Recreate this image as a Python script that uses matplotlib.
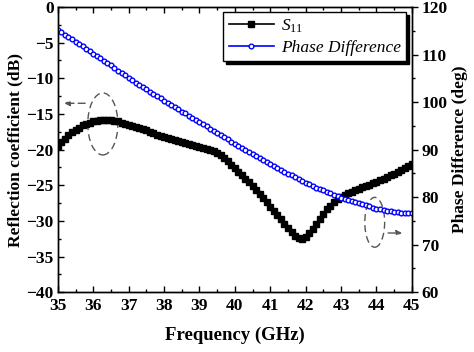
import numpy as np
import matplotlib
matplotlib.use('Agg')
import matplotlib.pyplot as plt
from matplotlib.patches import Ellipse
from matplotlib.ticker import MultipleLocator

plt.rcParams['font.family'] = ['Liberation Serif', 'DejaVu Serif']
plt.rcParams['mathtext.fontset'] = 'custom'
plt.rcParams['mathtext.it'] = 'Liberation Serif:italic'
plt.rcParams['mathtext.rm'] = 'Liberation Serif'

# Data
freq = np.round(np.arange(35.0, 45.01, 0.1), 1)

s11 = [-19.5, -19.0, -18.5, -18.0, -17.6, -17.2, -16.9, -16.6, -16.4, -16.2,
       -16.05, -15.95, -15.9, -15.85, -15.85, -15.9, -15.95, -16.05, -16.2, -16.35,
       -16.5, -16.65, -16.8, -16.95, -17.1, -17.3, -17.5, -17.7, -17.9, -18.05,
       -18.2, -18.35, -18.5, -18.65, -18.8, -18.95, -19.05, -19.2, -19.35, -19.5,
       -19.6, -19.75, -19.9, -20.05, -20.25, -20.5, -20.8, -21.2, -21.6, -22.1,
       -22.6, -23.1, -23.6, -24.1, -24.6, -25.1, -25.6, -26.2, -26.8, -27.4,
       -28.0, -28.6, -29.2, -29.8, -30.4, -31.0, -31.6, -32.1, -32.4, -32.5,
       -32.2, -31.7, -31.1, -30.4, -29.7, -29.0, -28.4, -27.9, -27.4, -27.0,
       -26.7, -26.4, -26.1, -25.9, -25.7, -25.5, -25.3, -25.1, -24.9, -24.7,
       -24.5, -24.3, -24.1, -23.9, -23.6, -23.4, -23.1, -22.9, -22.6, -22.3,
       -22.0]

phase = [115.2, 114.7, 114.2, 113.7, 113.2, 112.7, 112.2, 111.7, 111.2, 110.7,
         110.2, 109.7, 109.2, 108.7, 108.2, 107.7, 107.1, 106.6, 106.1, 105.6,
         105.1, 104.6, 104.1, 103.6, 103.1, 102.7, 102.2, 101.7, 101.2, 100.8,
         100.3, 99.8, 99.4, 98.9, 98.5, 98.0, 97.6, 97.1, 96.7, 96.2,
         95.8, 95.3, 94.9, 94.4, 94.0, 93.5, 93.1, 92.6, 92.2, 91.7,
         91.2, 90.8, 90.4, 90.0, 89.5, 89.1, 88.7, 88.2, 87.8, 87.4,
         86.9, 86.5, 86.1, 85.7, 85.3, 84.9, 84.6, 84.2, 83.8, 83.4,
         83.0, 82.7, 82.4, 82.0, 81.7, 81.4, 81.1, 80.8, 80.5, 80.2,
         79.9, 79.7, 79.4, 79.2, 78.9, 78.7, 78.5, 78.3, 78.1, 77.8,
         77.6, 77.4, 77.3, 77.1, 77.0, 76.9, 76.8, 76.7, 76.7, 76.6,
         76.6]

fig = plt.figure(figsize=(4.74, 3.52), dpi=100)
ax = fig.add_axes([0.122, 0.170, 0.747, 0.810])
ax2 = ax.twinx()

l1, = ax.plot(freq, s11, color='black', marker='s', markersize=4.2, lw=1.2)
l2, = ax2.plot(freq, phase, color='blue', marker='o', markersize=3.4, lw=1.2,
               markerfacecolor='white', markeredgecolor='blue', markeredgewidth=1.0)

ax.set_xlim(35, 45)
ax.set_ylim(-40, 0)
ax2.set_ylim(60, 120)

ax.xaxis.set_major_locator(MultipleLocator(1))
ax.xaxis.set_minor_locator(MultipleLocator(0.5))
ax.yaxis.set_major_locator(MultipleLocator(5))
ax.yaxis.set_minor_locator(MultipleLocator(2.5))
ax2.yaxis.set_major_locator(MultipleLocator(10))
ax2.yaxis.set_minor_locator(MultipleLocator(5))

ax.tick_params(axis='x', which='both', direction='in', top=True, labelsize=12.5, pad=4)
ax.tick_params(axis='y', which='both', direction='in', right=False, labelsize=12.5, pad=3)
ax.tick_params(which='major', length=4, width=1)
ax.tick_params(which='minor', length=2.5, width=1)
ax2.tick_params(axis='y', which='major', direction='out', length=4, width=1,
                labelsize=12.5, pad=3)
ax2.tick_params(axis='y', which='minor', direction='out', length=2.5, width=1)

for lab in ax.get_xticklabels() + ax.get_yticklabels() + ax2.get_yticklabels():
    lab.set_fontweight('bold')
for sp in list(ax.spines.values()) + list(ax2.spines.values()):
    sp.set_linewidth(1.0)

ax.set_xlabel('Frequency (GHz)', fontsize=13.5, fontweight='bold', labelpad=9)
ax.set_ylabel('Reflection coefficient (dB)', fontsize=12.5, fontweight='bold', labelpad=2)
ax2.set_ylabel('Phase Difference (deg)', fontsize=12.5, fontweight='bold', labelpad=3)

# dashed ellipses with arrows
ax.add_patch(Ellipse((36.27, -16.4), 0.85, 8.7, fill=False,
                     ls=(0, (5, 3)), ec='#555555', lw=1.0))
ax.annotate('', xy=(35.1, -13.5), xytext=(35.85, -13.5),
            arrowprops=dict(arrowstyle='-|>', ls=(0, (5, 3)), color='#555555',
                            lw=1.0, mutation_scale=8))
ax.add_patch(Ellipse((43.95, -30.2), 0.56, 7.0, fill=False,
                     ls=(0, (5, 3)), ec='#555555', lw=1.0))
ax.annotate('', xy=(44.8, -31.7), xytext=(44.25, -31.7),
            arrowprops=dict(arrowstyle='-|>', ls=(0, (5, 3)), color='#555555',
                            lw=1.0, mutation_scale=8))

leg = ax2.legend([l1, l2], [r'$S_{\mathit{11}}$', 'Phase Difference'], loc='upper right',
                 bbox_to_anchor=(0.983, 0.982), fancybox=False,
                 shadow={'facecolor': 'black', 'edgecolor': 'black', 'alpha': 1},
                 framealpha=1, edgecolor='black', handlelength=2.6,
                 prop={'style': 'italic', 'size': 12.5}, borderpad=0.3,
                 labelspacing=0.3, handletextpad=0.4, borderaxespad=0)
leg.get_frame().set_linewidth(1.0)

fig.savefig('out.png', dpi=100)
